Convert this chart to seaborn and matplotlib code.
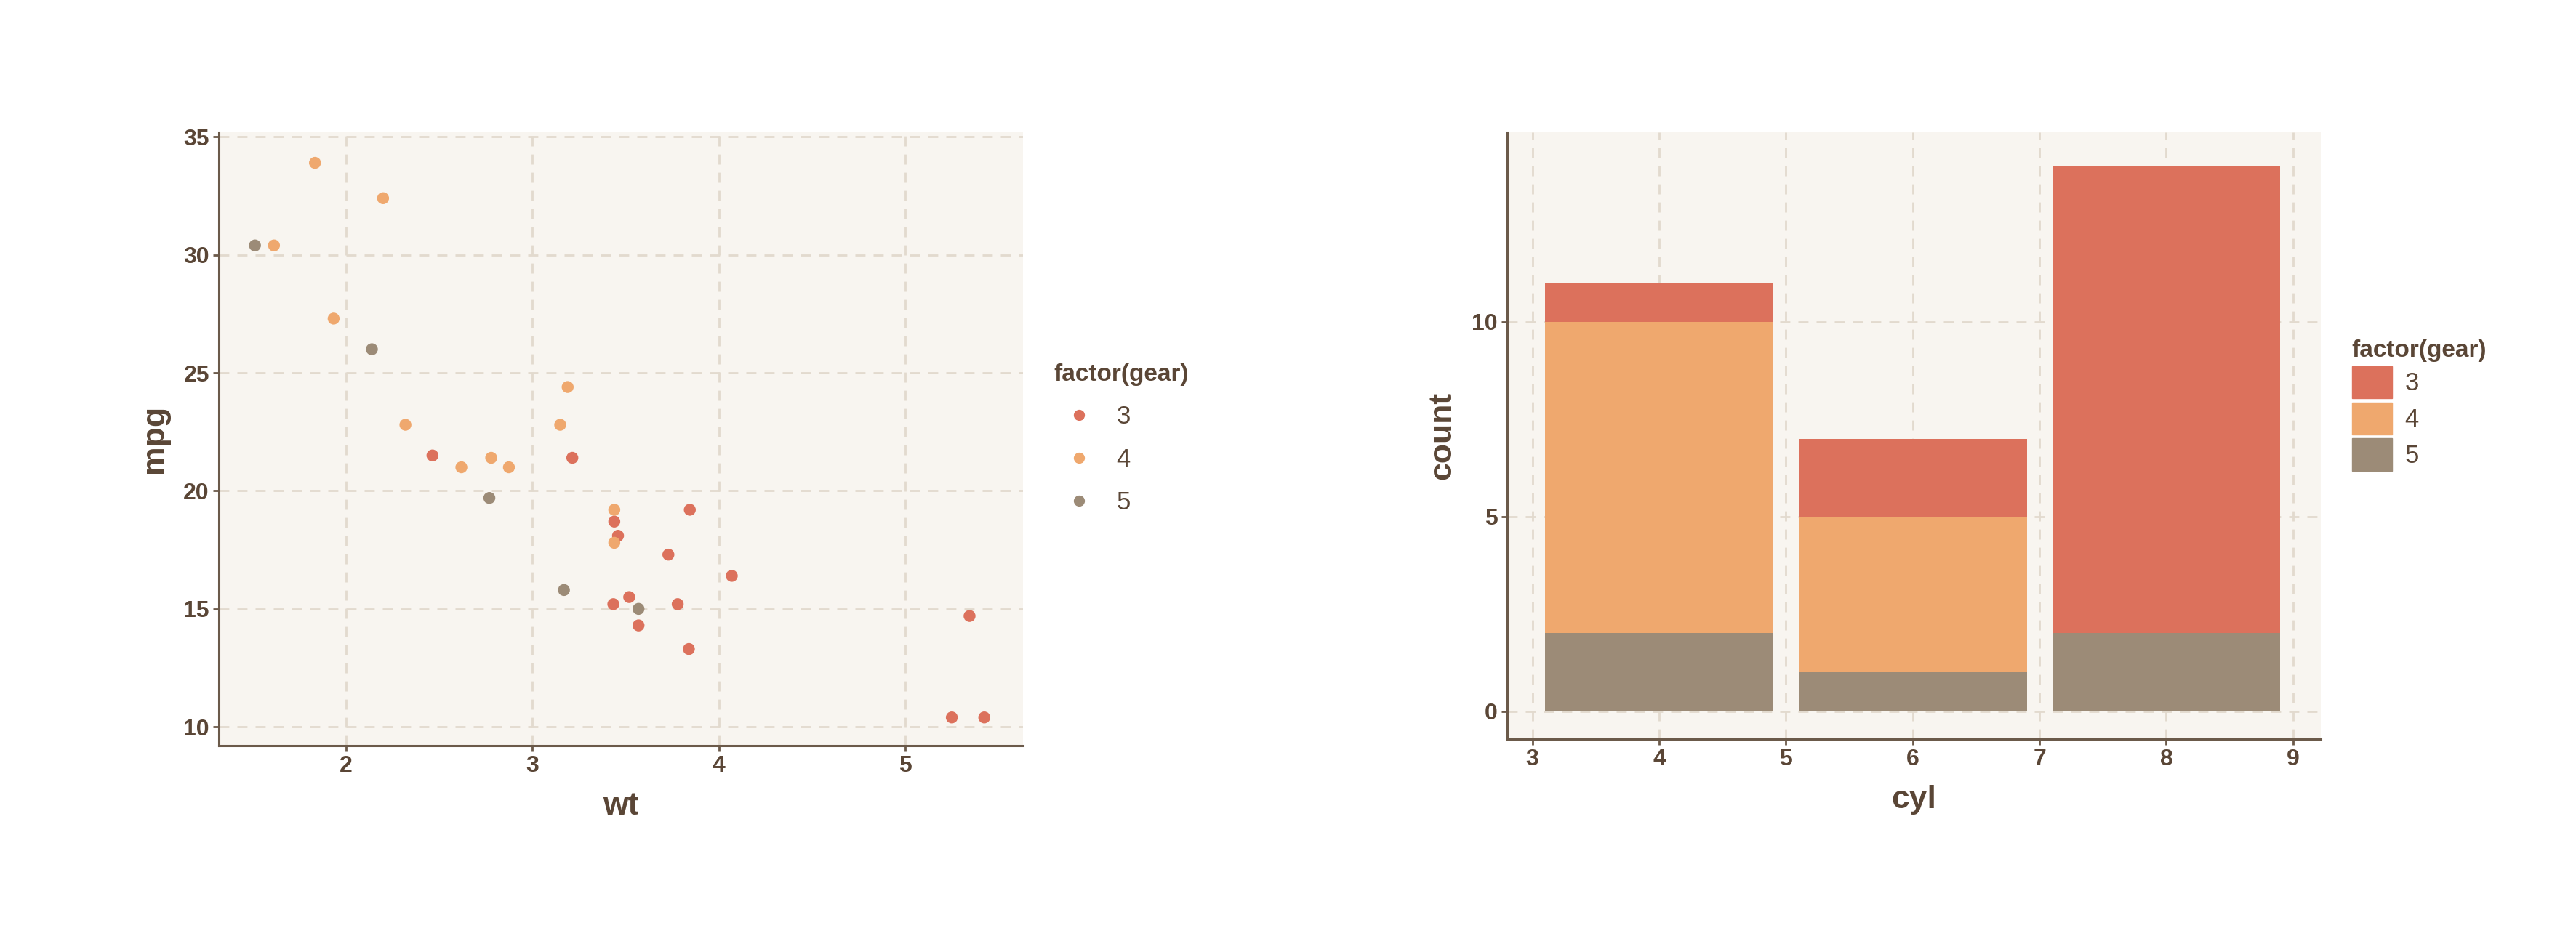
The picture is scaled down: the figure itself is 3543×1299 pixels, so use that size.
import numpy as np
import pandas as pd
import seaborn as sns
import matplotlib.pyplot as plt
import matplotlib.patches as mpatches
from matplotlib.lines import Line2D

# mtcars: wt, mpg, gear
wt = [2.620, 2.875, 2.320, 3.215, 3.440, 3.460, 3.570, 3.190, 3.150, 3.440, 3.440,
      4.070, 3.730, 3.780, 5.250, 5.424, 5.345, 2.200, 1.615, 1.835, 2.465, 3.520,
      3.435, 3.840, 3.845, 1.935, 2.140, 1.513, 3.170, 2.770, 3.570, 2.780]
mpg = [21.0, 21.0, 22.8, 21.4, 18.7, 18.1, 14.3, 24.4, 22.8, 19.2, 17.8,
       16.4, 17.3, 15.2, 10.4, 10.4, 14.7, 32.4, 30.4, 33.9, 21.5, 15.5,
       15.2, 13.3, 19.2, 27.3, 26.0, 30.4, 15.8, 19.7, 15.0, 21.4]
gear = [4, 4, 4, 3, 3, 3, 3, 4, 4, 4, 4, 3, 3, 3, 3, 3, 3, 4, 4, 4, 3, 3,
        3, 3, 3, 4, 5, 5, 5, 5, 5, 4]

cyl_levels = [4, 6, 8]
count_gear3 = [1, 2, 12]
count_gear4 = [8, 4, 0]
count_gear5 = [2, 1, 2]

gear_levels = ['3', '4', '5']
palette = {'3': '#DC715C', '4': '#EFA86E', '5': '#9C8B77'}
bg = '#F8F5F0'
grid_c = '#E2DACE'
text_c = '#5A4636'
axis_c = '#6B5A4A'

sns.set_theme(style='white')
plt.rcParams['font.family'] = ['Liberation Sans', 'DejaVu Sans']
plt.rcParams['text.color'] = text_c

df = pd.DataFrame({'wt': wt, 'mpg': mpg, 'gear': [str(g) for g in gear]})

fig = plt.figure(figsize=(35.43, 12.99), dpi=100)
fig.patch.set_facecolor('white')
ax1 = fig.add_axes([0.085, 0.21, 0.312, 0.65])
ax2 = fig.add_axes([0.585, 0.217, 0.316, 0.643])


def style(ax):
    ax.set_facecolor(bg)
    ax.grid(True, color=grid_c, linestyle=(0, (5, 4)), linewidth=2)
    ax.set_axisbelow(True)
    for s in ['top', 'right']:
        ax.spines[s].set_visible(False)
    for s in ['left', 'bottom']:
        ax.spines[s].set_color(axis_c)
        ax.spines[s].set_linewidth(2.2)
    ax.tick_params(axis='both', colors=axis_c, labelcolor=text_c, labelsize=23,
                   length=6, width=2, direction='out', bottom=True, left=True)
    for lbl in ax.get_xticklabels() + ax.get_yticklabels():
        lbl.set_fontweight('bold')


sns.scatterplot(data=df, x='wt', y='mpg', hue='gear', hue_order=gear_levels,
                palette=palette, s=140, edgecolor='none', legend=False, ax=ax1)
ax1.set_xlim(1.32, 5.63)
ax1.set_ylim(9.2, 35.2)
ax1.set_xticks([2, 3, 4, 5])
ax1.set_yticks([10, 15, 20, 25, 30, 35])
style(ax1)
ax1.set_xlabel('wt', fontsize=32, fontweight='bold', color=text_c, labelpad=14)
ax1.set_ylabel('mpg', fontsize=32, fontweight='bold', color=text_c, labelpad=14)

handles = [Line2D([], [], marker='o', linestyle='none', markersize=11,
                  markerfacecolor=palette[g], markeredgecolor='none') for g in gear_levels]
leg = ax1.legend(handles, gear_levels, title='factor(gear)', loc='center left',
                 bbox_to_anchor=(1.01, 0.5), frameon=False, fontsize=25,
                 title_fontsize=24, handletextpad=0.5, labelspacing=0.75)
leg.get_title().set_fontweight('bold')
leg._legend_box.align = 'left'

bottom = np.zeros(len(cyl_levels))
for g, vals in [('5', count_gear5), ('4', count_gear4), ('3', count_gear3)]:
    ax2.bar(cyl_levels, vals, bottom=bottom, width=1.8, color=palette[g], linewidth=0)
    bottom = bottom + np.array(vals)
ax2.set_xlim(2.8, 9.22)
ax2.set_ylim(-0.72, 14.87)
ax2.set_xticks([3, 4, 5, 6, 7, 8, 9])
ax2.set_yticks([0, 5, 10])
style(ax2)
ax2.set_xlabel('cyl', fontsize=32, fontweight='bold', color=text_c, labelpad=14)
ax2.set_ylabel('count', fontsize=32, fontweight='bold', color=text_c, labelpad=14)

patches = [mpatches.Patch(color=palette[g]) for g in gear_levels]
leg2 = ax2.legend(patches, gear_levels, title='factor(gear)', loc='center left',
                  bbox_to_anchor=(1.01, 0.55), frameon=False, fontsize=25,
                  title_fontsize=24, handlelength=1.6, handleheight=1.6,
                  handletextpad=0.5, labelspacing=0.15)
leg2.get_title().set_fontweight('bold')
leg2._legend_box.align = 'left'

fig.savefig('out.png', dpi=100, facecolor='white')
